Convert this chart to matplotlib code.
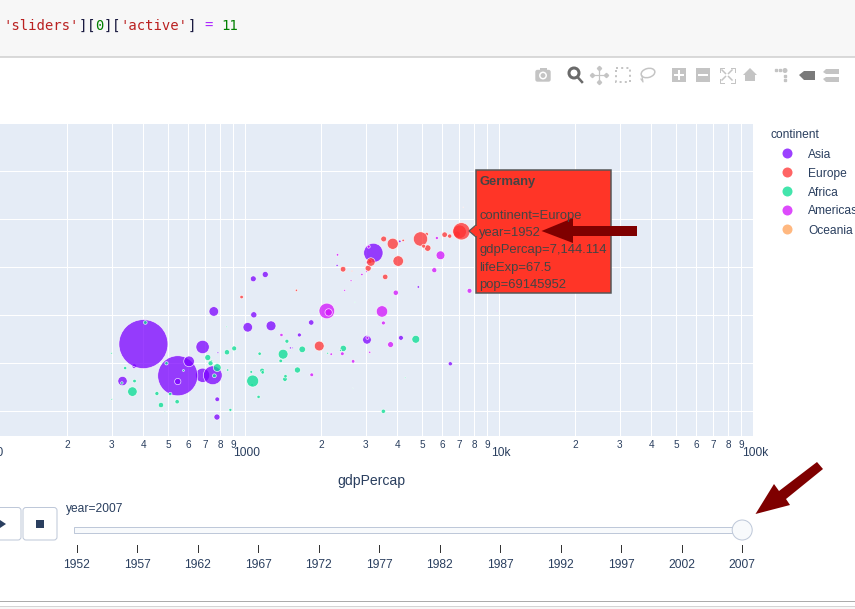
import numpy as np
from matplotlib import pyplot as plt
from matplotlib.colors import to_rgba
from matplotlib.patches import Rectangle, Circle, Polygon, FancyBboxPatch, Ellipse
from matplotlib.ticker import NullFormatter
from matplotlib.transforms import ScaledTranslation

plt.rcParams['font.family'] = ['Liberation Sans', 'DejaVu Sans']

# gdpPercap, lifeExp, pop for the 1952 frame
asia_gdp = [779, 9867, 684, 368, 400, 3054, 546, 750, 3035, 4129, 4086, 3216, 1546, 1088, 1030, 108382, 4834,
            1831, 786, 331, 546, 1828, 684, 1272, 6460, 2315, 1083, 1644, 1207, 757, 605, 1515, 781]
asia_life = [28.8, 50.9, 37.5, 39.4, 44.0, 61.0, 37.4, 37.5, 44.9, 45.3, 65.4, 63.0, 43.2, 50.1, 47.5, 55.6, 55.9,
             48.5, 42.2, 36.3, 36.2, 37.6, 43.4, 47.8, 39.9, 60.4, 57.6, 45.9, 58.5, 50.8, 40.4, 43.2, 32.5]
asia_pop = [8425333, 120447, 46886859, 4693836, 556263527, 2125900, 372000000, 82052000, 17272000, 5441766,
            1620914, 86459025, 607914, 8865488, 20947571, 160000, 1439529, 6748378, 800663, 20092996, 9182536,
            507833, 41346560, 22438691, 4005677, 1127000, 7982342, 3661549, 8550362, 21289402, 26246839, 1030585,
            4963829]

europe_gdp = [1601, 6137, 8343, 974, 2444, 3119, 6876, 9692, 6425, 7030, 7144, 3531, 5264, 7268, 5211, 4931,
              2648, 8942, 10095, 4029, 3068, 3145, 3581, 5074, 4215, 3834, 8528, 14734, 1969, 9980]
europe_life = [55.2, 66.8, 68.0, 53.8, 59.6, 61.2, 66.9, 70.8, 66.5, 67.4, 67.5, 65.9, 64.0, 72.5, 66.9, 65.9,
               59.2, 72.1, 72.7, 61.3, 59.8, 61.1, 58.0, 64.4, 65.6, 64.9, 71.9, 69.6, 43.6, 69.2]
europe_pop = [1282697, 6927772, 8730405, 2791000, 7274900, 3882229, 9125183, 4334000, 4090500, 42459667,
              69145952, 7733250, 9504000, 147962, 2952156, 47666000, 413834, 10381988, 3327728, 25730551,
              8526050, 16630000, 6860147, 3558137, 1489518, 28549870, 7124673, 4815000, 22235677, 50430000]

africa_gdp = [2449, 3521, 1063, 851, 543, 339, 1173, 1071, 1179, 1103, 781, 2126, 1389, 2670, 1419, 375, 329,
              362, 4293, 485, 911, 510, 300, 853, 299, 575, 2388, 1443, 369, 452, 743, 1968, 1688, 469, 2424,
              761, 1077, 2719, 493, 880, 1450, 880, 1136, 4725, 1616, 1148, 717, 859, 1469, 735, 1147, 407]
africa_life = [43.1, 30.0, 38.2, 47.6, 32.0, 39.0, 38.5, 35.5, 38.1, 40.7, 39.1, 42.1, 40.5, 34.8, 41.9, 34.5,
               35.9, 34.1, 37.0, 30.0, 43.1, 33.6, 32.5, 42.3, 42.1, 38.5, 42.7, 36.7, 36.3, 33.7, 40.5, 51.0,
               42.9, 31.3, 41.7, 37.4, 36.3, 52.7, 40.0, 46.5, 37.3, 30.3, 33.0, 45.0, 38.6, 41.4, 41.2, 38.6,
               44.6, 40.0, 42.0, 48.5]
africa_pop = [9279525, 4232095, 1738315, 442308, 4469979, 2445618, 5009067, 1291695, 2682462, 153936, 14100005,
              854885, 2977019, 63149, 22223309, 216964, 1438760, 20860941, 420702, 284320, 5581001, 2664249,
              580653, 6464046, 748747, 863308, 1019729, 4762912, 2917802, 3838168, 1022556, 516556, 9939217,
              6446316, 485831, 3379468, 33119096, 257700, 2534927, 60011, 2755589, 2143249, 2526994, 14264935,
              8504667, 290243, 8322925, 1219113, 3647735, 5824797, 2672000, 3080907]

americas_gdp = [5911, 2677, 2109, 11367, 3940, 2144, 2627, 5587, 1398, 3522, 3048, 2428, 1840, 2195, 2898, 3478,
                3112, 2480, 2324, 3759, 3082, 3024, 13990, 5717, 7689]
americas_life = [62.5, 40.4, 50.9, 68.8, 54.7, 50.6, 57.2, 59.4, 45.9, 48.4, 45.3, 42.0, 37.6, 41.9, 58.5, 50.8,
                 42.3, 55.2, 62.6, 43.9, 64.3, 59.1, 68.4, 66.1, 55.1]
americas_pop = [17876956, 2883315, 56602560, 14785584, 6377619, 12350771, 926317, 6007797, 2491346, 3548753,
                2042865, 3146381, 3201488, 1517453, 1426095, 30144317, 1165790, 940080, 1555876, 8025700, 2227000,
                662850, 157553000, 2252965, 5439568]

oceania_gdp = [10040, 10557]
oceania_life = [69.1, 69.4]
oceania_pop = [8691212, 1994794]

continents = ['Asia', 'Europe', 'Africa', 'Americas', 'Oceania']
colors = ['#7B00FF', '#FF3030', '#04DD91', '#D20EFC', '#FFA155']
series = [(asia_gdp, asia_life, asia_pop), (europe_gdp, europe_life, europe_pop),
          (africa_gdp, africa_life, africa_pop), (americas_gdp, americas_life, americas_pop),
          (oceania_gdp, oceania_life, oceania_pop)]

years = [1952, 1957, 1962, 1967, 1972, 1977, 1982, 1987, 1992, 1997, 2002, 2007]
hover_lines = ['continent=Europe', 'year=1952', 'gdpPercap=7,144.114', 'lifeExp=67.5', 'pop=69145952']

W, H = 855, 609
TEXT = '#2a3f5f'
RAIL = '#bec8d9'
LIGHT = '#c4c4c4'
DARK = '#6a6a6a'
ARROW = '#7f0000'
OPACITY = 0.75


def pt(px):
    return px * 0.72


fig = plt.figure(figsize=(W / 100, H / 100), dpi=100, facecolor='white')

# plot area runs off the left edge of the screenshot
ax = fig.add_axes([-9.5 / W, (H - 436) / H, 762 / W, (436 - 123.3) / H], zorder=1)
ax.set_facecolor('#E5ECF6')
ax.set_xscale('log')
ax.set_xlim(100, 100000)
ax.set_ylim(24.85, 90)
for s in ax.spines.values():
    s.set_visible(False)

ax.set_xticks([100, 1000, 10000, 100000])
ax.set_xticklabels(['100', '1000', '10k', '100k'], fontsize=pt(12), color=TEXT)
minor = [m * d for d in (100, 1000, 10000) for m in range(2, 10)]
ax.set_xticks(minor, minor=True)
ax.set_xticklabels([str(m // (10 ** int(np.log10(m)))) for m in minor], minor=True, fontsize=pt(10), color=TEXT)
ax.set_yticks(range(30, 100, 10))
ax.yaxis.set_major_formatter(NullFormatter())
ax.tick_params(axis='both', which='both', length=0)
ax.tick_params(axis='x', which='major', pad=pt(11))
ax.tick_params(axis='x', which='minor', pad=pt(4))
nudge = ScaledTranslation(2.5 / 100, 0, fig.dpi_scale_trans)
for lab in ax.get_xticklabels():
    lab.set_transform(lab.get_transform() + nudge)
ax.grid(True, which='both', color='white', lw=pt(1))
ax.set_axisbelow(True)

for (gdp, life, pop), c in zip(series, colors):
    diam = 49 * np.sqrt(np.array(pop) / 556263527)
    ax.scatter(gdp, life, s=(diam * 0.72) ** 2, facecolor=to_rgba(c, OPACITY), edgecolor=to_rgba('white', 0.85),
               linewidth=0.5, zorder=3)

# everything else on the page, in screen pixels
page = fig.add_axes([0, 0, 1, 1], zorder=2)
page.set_xlim(0, W)
page.set_ylim(H, 0)
page.axis('off')

# notebook cell
page.add_patch(Rectangle((0, 0), W, 57, fc='#f7f7f7', ec='none'))
page.plot([0, W], [57, 57], color='#cfcfcf', lw=pt(1.5))
code_tokens = [("'sliders'", '#ba2121'), ("]", '#1a1a40'), ("[", '#1a1a40'), ("0", '#008000'), ("]", '#1a1a40'),
               ("[", '#1a1a40'), ("'active'", '#ba2121'), ("]", '#1a1a40'), (" ", 'k'), ("=", '#aa22ff'), (" ", 'k'),
               ("11", '#008000')]
pos = 0
for tok, col in code_tokens:
    page.text(3 + pos * 8.39, 26, tok, family='DejaVu Sans Mono', fontsize=10, color=col, va='center')
    pos += len(tok)

# modebar
page.add_patch(FancyBboxPatch((536, 70.5), 14, 10.5, boxstyle='round,pad=0,rounding_size=1.5', fc=LIGHT, ec=LIGHT, lw=1))
page.add_patch(Rectangle((539.5, 68), 7, 3, fc=LIGHT, ec='none'))
page.add_patch(Circle((543, 75.5), 3.2, fc=LIGHT, ec='white', lw=pt(1.5)))
page.add_patch(Circle((574, 73), 5, fc='none', ec=DARK, lw=pt(3)))
page.plot([577.5, 582], [77, 82], color=DARK, lw=pt(2.5))
page.plot([591.5, 605.5], [75, 75], color=LIGHT, lw=pt(1.2))
page.plot([598.5, 598.5], [68, 82], color=LIGHT, lw=pt(1.2))
page.plot([591.5, 605.5, 598.5, 598.5], [75, 75, 68, 82], ls='none', marker='D', ms=pt(3), color=LIGHT)
page.add_patch(Rectangle((616, 68), 14, 14, fc='none', ec=LIGHT, lw=pt(2), ls=(0, (1, 1.6))))
page.add_patch(Ellipse((648, 73), 14, 9, angle=-15, fc='none', ec=LIGHT, lw=pt(1.5)))
page.plot([642, 643, 641], [76, 82, 79], color=LIGHT, lw=pt(1.2))
for cx, tall in ((679, True), (703, False)):
    page.add_patch(Rectangle((cx - 7, 68), 14, 14, fc=LIGHT, ec='none'))
    page.plot([cx - 4, cx + 4], [75, 75], color='white', lw=pt(2))
    if tall:
        page.plot([cx, cx], [71, 79], color='white', lw=pt(2))
for sx, sy in ((-1, -1), (1, -1), (1, 1), (-1, 1)):
    cx, cy = 727 + sx * 7.5, 75 + sy * 7.5
    page.plot([cx - sx * 4, cx, cx], [cy, cy, cy - sy * 4], color=LIGHT, lw=pt(1))
    page.plot([727 + sx * 1.5, 727 + sx * 5], [75 + sy * 1.5, 75 + sy * 5], color=LIGHT, lw=pt(1.5))
page.add_patch(Polygon([(743, 75), (750, 68), (757, 75), (755, 75), (755, 81), (745, 81), (745, 75)], fc=LIGHT, ec='none'))
page.plot([775.5, 779.5, 785, 785], [70, 70, 75.5, 79.5], ls='none', marker='s', ms=pt(2), color=LIGHT)
page.add_patch(Circle((785, 70.5), 2.5, fc=LIGHT, ec='none'))
page.add_patch(Polygon([(799, 75), (804, 71), (815, 71), (815, 80), (804, 80)], fc='#7a7a7a', ec='none'))
page.add_patch(Polygon([(823, 72), (826, 69), (839, 69), (839, 74), (826, 74)], fc=LIGHT, ec='none'))
page.add_patch(Polygon([(823, 79), (826, 77), (839, 77), (839, 82), (826, 82)], fc=LIGHT, ec='none'))

# legend
page.text(770, 135, 'continent', fontsize=pt(12), color=TEXT, va='center')
for i, (name, c) in enumerate(zip(continents, colors)):
    y = 153.5 + i * 19
    page.add_patch(Circle((787.5, y), 5, fc=c, ec='none', alpha=OPACITY))
    page.text(808, y + 1, name, fontsize=pt(12), color=TEXT, va='center')

# hover label
page.add_patch(Polygon([(476, 225), (469, 231), (476, 237)], fc='#ff3527', ec='#555555', lw=pt(1.2)))
page.add_patch(Rectangle((476, 170), 135, 122.5, fc='#ff3527', ec='#555555', lw=pt(1.5)))
page.add_patch(Rectangle((475, 226), 3, 10, fc='#ff3527', ec='none'))
page.text(479, 182, 'Germany', fontsize=pt(13), color='#444444', weight='bold', va='center')
for i, line in enumerate(hover_lines):
    page.text(479, 216 + i * 17.2, line, fontsize=pt(13), color='#444444', va='center')

# annotation arrows
page.add_patch(Polygon([(541.5, 231), (573, 218), (573, 226), (637, 226), (637, 236), (573, 236), (573, 243)],
                       fc=ARROW, ec='none'))
page.add_patch(Polygon([(755.5, 514), (774, 484), (779, 491), (817, 462), (823, 469), (786, 499), (790, 505)],
                       fc=ARROW, ec='none'))

# axis title
page.text(371, 481, 'gdpPercap', fontsize=pt(14), color=TEXT, ha='center', va='center')

# animation buttons
for x0, x1 in ((-15, 21), (23, 57)):
    page.add_patch(FancyBboxPatch((x0, 507.5), x1 - x0, 32.5, boxstyle='round,pad=0,rounding_size=3',
                                  fc='white', ec=RAIL, lw=pt(1)))
page.add_patch(Polygon([(0, 520), (6, 524), (0, 528)], fc=TEXT, ec='none'))
page.add_patch(Rectangle((36, 520), 8, 8, fc=TEXT, ec='none'))

# slider
page.text(66, 509, 'year=2007', fontsize=pt(12), color=TEXT, va='center')
page.add_patch(Rectangle((74, 527), 668, 5.5, fc='#f8fafc', ec=RAIL, lw=pt(1)))
slider_x = np.linspace(76.7, 742.2, len(years))
for x, yr in zip(slider_x, years):
    page.plot([x, x], [545, 552], color='#333333', lw=pt(1))
    page.text(x, 564.5, str(yr), fontsize=pt(12), color=TEXT, ha='center', va='center')
page.add_patch(Circle((742.2, 530), 10, fc='#f8fafc', ec=RAIL, lw=pt(1)))

# next notebook cell
page.plot([0, W], [600.5, 600.5], color='#ababab', lw=pt(1))
page.plot([0, W], [606, 606], color='#d4d4d4', lw=pt(1))
page.add_patch(Rectangle((0, 606), W, 3, fc='#f7f7f7', ec='none'))

fig.savefig('out.png', dpi=100)
